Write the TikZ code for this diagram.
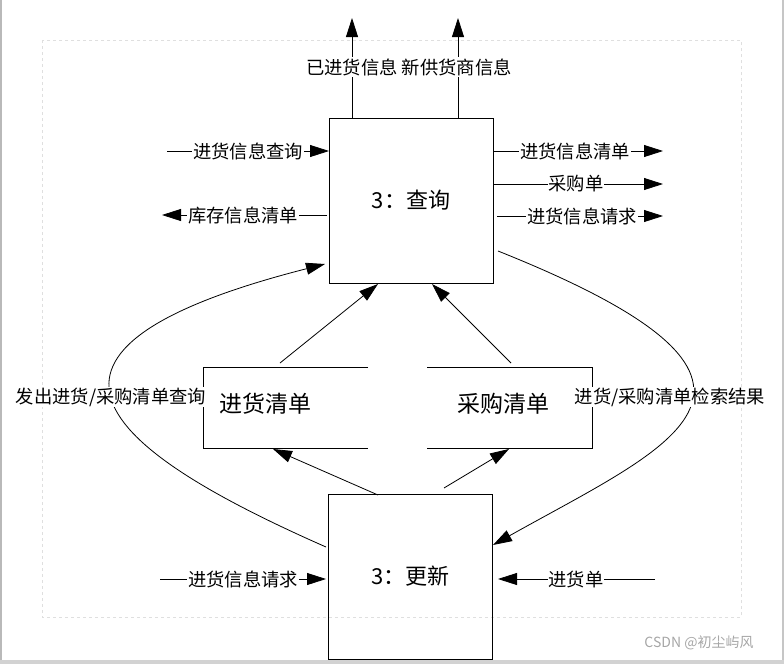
\documentclass[tikz,border=0pt]{standalone}
\usepackage{fontspec}
\setmainfont{Noto Sans CJK SC}
\usetikzlibrary{arrows.meta}
\begin{document}
\begin{tikzpicture}[x=1pt,y=-1pt,
  proc/.style={draw,line width=0.9pt,minimum width=164pt,minimum height=165pt,inner sep=0pt,font=\fontsize{22}{25}\selectfont},
  storelbl/.style={inner sep=0pt,font=\fontsize{23}{26}\selectfont},
  lbl/.style={fill=white,inner sep=1pt,font=\fontsize{18.3}{21}\selectfont},
  arr/.style={-{Triangle[length=19pt,width=12pt]},line width=0.8pt},
  wall/.style={line width=0.9pt}]
\useasboundingbox (0,0) rectangle (784,664);
% frame
\fill[fill=gray!55] (0,0) rectangle (2,664);
\fill[fill=gray!45] (782,0) rectangle (784,664);
\fill[fill=gray!35] (0,660) rectangle (784,664);
\draw[gray!25,dashed,line width=0.8pt] (42,40) rectangle (741,617);
% processes
\node[proc] (q) at (411,200.5) {3：查询};
\node[proc] (u) at (410.5,576.5) {3：更新};
% stores
\node[storelbl] (s1) at (265,404) {进货清单};
\node[storelbl] (s2) at (503,404) {采购清单};
\draw[wall] (368,367) -- (203,367) -- (203,448) -- (368,448);
\draw[wall] (427,367) -- (592,367) -- (592,448) -- (427,448);
% coordinates
\coordinate (t1a) at (352,118); \coordinate (t1b) at (352,18);
\coordinate (t2a) at (458,118); \coordinate (t2b) at (458,18);
\coordinate (l1a) at (167,151); \coordinate (l1b) at (329,151);
\coordinate (l2a) at (327,215); \coordinate (l2b) at (162,215);
\coordinate (r1a) at (493,151); \coordinate (r1b) at (663,151);
\coordinate (r2a) at (493,184); \coordinate (r2b) at (663,184);
\coordinate (r3a) at (497,216); \coordinate (r3b) at (663,216);
\coordinate (b1a) at (160,579); \coordinate (b1b) at (326,579);
\coordinate (b2a) at (655,579); \coordinate (b2b) at (498,579);
\coordinate (s1up) at (280,363); \coordinate (qin1) at (378,284);
\coordinate (s2up) at (511,363); \coordinate (qin2) at (432,284);
\coordinate (uout1) at (378,495); \coordinate (s1in) at (273,449);
\coordinate (uout2) at (444,488); \coordinate (s2in) at (509,449);
\coordinate (cl0) at (326,547); \coordinate (cl1) at (325,264);
\coordinate (cr0) at (498,251); \coordinate (cr1) at (493,545);
% connectors
\draw[arr] (t1a) -- (t1b);
\draw[arr] (t2a) -- (t2b);
\draw[arr] (l1a) -- (l1b);
\draw[arr] (l2a) -- (l2b);
\draw[arr] (r1a) -- (r1b);
\draw[arr] (r2a) -- (r2b);
\draw[arr] (r3a) -- (r3b);
\draw[arr] (b1a) -- (b1b);
\draw[arr] (b2a) -- (b2b);
\draw[arr] (s1up) -- (qin1);
\draw[arr] (s2up) -- (qin2);
\draw[arr] (uout1) -- (s1in);
\draw[arr] (uout2) -- (s2in);
\draw[arr] (cl0) .. controls (99,447) and (-12,350) .. (cl1);
\draw[arr] (cr0) .. controls (831,384) and (673,444) .. (cr1);
% labels
\node[lbl] (top) at (409,67) {已进货信息 新供货商信息};
\node[lbl] (ll1) at (248,151) {进货信息查询};
\node[lbl] (ll2) at (243,215) {库存信息清单};
\node[lbl] (rl1) at (575,151) {进货信息清单};
\node[lbl] (rl2) at (576,184) {采购单};
\node[lbl] (rl3) at (582,216) {进货信息请求};
\node[lbl] (bl1) at (243,579) {进货信息请求};
\node[lbl] (bl2) at (576,579) {进货单};
\node[lbl] (cll) at (111,397) {发出进货/采购清单查询};
\node[lbl] (crl) at (670,397) {进货/采购清单检索结果};
\node[text=gray!70,font=\fontsize{14}{16}\selectfont,inner sep=0pt] (wm) at (699,643) {CSDN @初尘屿风};
\end{tikzpicture}
\end{document}
